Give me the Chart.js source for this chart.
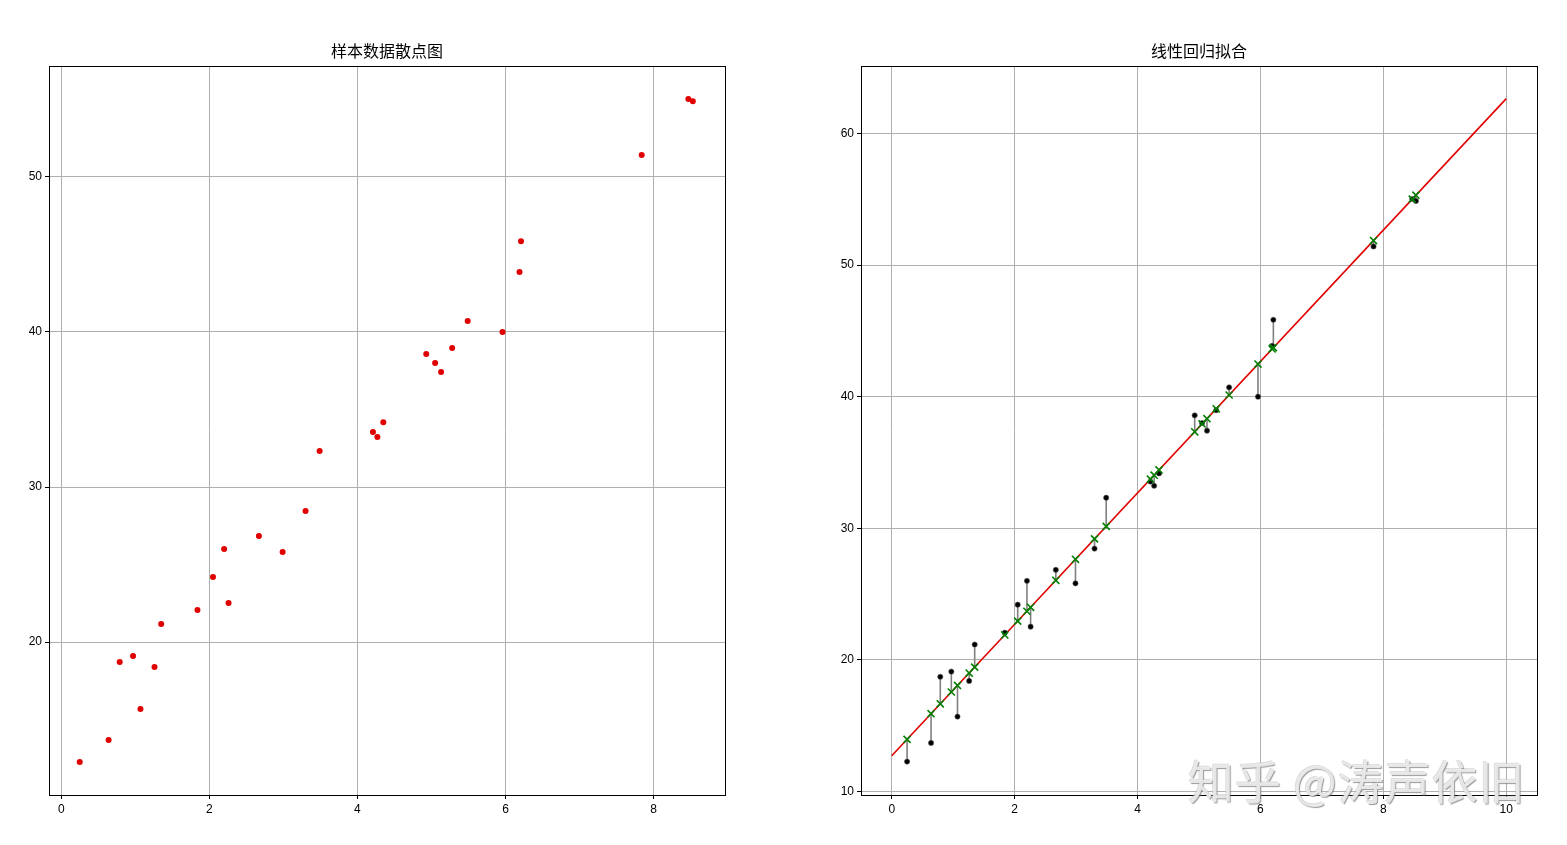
<!DOCTYPE html>
<html>
<head>
<meta charset="utf-8">
<script src="https://cdn.jsdelivr.net/npm/chart.js@4.4.1/dist/chart.umd.min.js"></script>
<style>
  html, body { margin: 0; padding: 0; background: #ffffff; }
  body { width: 1567px; height: 845px; position: relative; overflow: hidden; }
  #c1 { position: absolute; left: 0; top: 0; }
  #c2 { position: absolute; left: 783px; top: 0; }
  #wm {
    position: absolute; left: 1188px; top: 756px;
    font-family: "Noto Sans CJK SC", sans-serif; font-size: 46px; line-height: 1;
    color: rgba(238,238,238,0.9); white-space: nowrap; letter-spacing: 1px;
    text-shadow: 1px 1px 1px rgba(120,120,120,0.75), -1px -1px 0 rgba(190,190,190,0.5);
    pointer-events: none;
  }
</style>
</head>
<body>
<canvas id="c1" width="783" height="845"></canvas>
<canvas id="c2" width="784" height="845"></canvas>
<div id="wm">知乎 @涛声依旧</div>
<script>
// ---- data ----
const sampleX = [0.25, 0.64, 0.79, 0.97, 1.07, 1.26, 1.35, 1.84, 2.05, 2.20, 2.26, 2.67, 2.99, 3.30, 3.49, 4.21, 4.27, 4.35, 4.93, 5.05, 5.13, 5.28, 5.49, 5.96, 6.19, 6.21, 7.84, 8.47, 8.53];
const sampleY = [12.26, 13.68, 18.71, 19.10, 15.68, 18.39, 21.16, 22.06, 24.19, 26.00, 22.52, 26.84, 25.81, 28.45, 32.32, 33.55, 33.23, 34.17, 38.58, 38.00, 37.42, 38.97, 40.71, 40.00, 43.87, 45.85, 51.42, 55.03, 54.88];
const fittedY = [13.95, 15.90, 16.65, 17.55, 18.05, 18.99, 19.44, 21.89, 22.94, 23.69, 23.99, 26.04, 27.64, 29.19, 30.14, 33.73, 34.03, 34.43, 37.33, 37.93, 38.33, 39.08, 40.13, 42.48, 43.63, 43.73, 51.87, 55.02, 55.32];
const lineX = [0, 10];
const lineY = [12.70, 62.66];
const titles = ["样本数据散点图", "线性回归拟合"];
const leftXRange = [-0.165, 8.965];
const leftYRange = [10.13, 57.16];
const rightXRange = [-0.5, 10.5];
const rightYRange = [9.72, 65.14];
const xTickStep = 2;
const yTickStep = 10;

const tickFont = { family: "'Liberation Sans', Arial, sans-serif", size: 12 };
const titleFont = { family: "'Noto Sans CJK SC', sans-serif", size: 16, weight: 'normal' };

const framePlugin = {
  id: 'frame',
  afterDraw(chart) {
    const a = chart.chartArea, ctx = chart.ctx;
    ctx.save();
    ctx.strokeStyle = '#000';
    ctx.lineWidth = 1;
    ctx.strokeRect(Math.round(a.left) + 0.5, Math.round(a.top) + 0.5, Math.round(a.right - a.left), Math.round(a.bottom - a.top));
    ctx.restore();
  }
};

function axes(xr, yr, yWidth) {
  const grid = { color: '#b0b0b0', lineWidth: 1, tickColor: '#000', tickLength: 4, drawTicks: true };
  return {
    x: {
      type: 'linear', min: xr[0], max: xr[1],
      ticks: { stepSize: xTickStep, includeBounds: false, font: tickFont, color: '#000', padding: 3, maxRotation: 0 },
      grid: grid, border: { display: false },
      afterFit(s) { s.height = 50; }
    },
    y: {
      type: 'linear', min: yr[0], max: yr[1],
      ticks: { stepSize: yTickStep, includeBounds: false, font: tickFont, color: '#000', padding: 3 },
      grid: grid, border: { display: false },
      afterFit(s) { s.width = yWidth; }
    }
  };
}

function titleOpts(text) {
  return { display: true, text: text, font: titleFont, color: '#000', fullSize: false, padding: { top: 41, bottom: 5.8 } };
}

const pts = (xs, ys) => xs.map((x, i) => ({ x: x, y: ys[i] }));

// Left chart
new Chart(document.getElementById('c1'), {
  type: 'scatter',
  data: {
    datasets: [{
      label: 'sample',
      data: pts(sampleX, sampleY),
      backgroundColor: '#e00000', borderColor: '#e00000', borderWidth: 0,
      pointRadius: 3, pointHoverRadius: 3
    }]
  },
  options: {
    responsive: false, animation: false, devicePixelRatio: 1,
    layout: { padding: { left: 0, right: 58, top: 0, bottom: 0 } },
    plugins: { legend: { display: false }, tooltip: { enabled: false }, title: titleOpts(titles[0]) },
    scales: axes(leftXRange, leftYRange, 49)
  },
  plugins: [framePlugin]
});

// residual segments: point -> fitted value, separated by gaps
const residualData = [];
sampleX.forEach((x, i) => {
  residualData.push({ x: x, y: sampleY[i] });
  residualData.push({ x: x, y: fittedY[i] });
  residualData.push({ x: x, y: null });
});

// Right chart
new Chart(document.getElementById('c2'), {
  type: 'scatter',
  data: {
    datasets: [
      {
        label: 'fitted', data: pts(sampleX, fittedY), order: 0,
        pointStyle: 'crossRot', pointRadius: 5, pointHoverRadius: 5,
        borderColor: '#008000', backgroundColor: '#008000', borderWidth: 1.6
      },
      {
        label: 'sample', data: pts(sampleX, sampleY), order: 1,
        pointRadius: 2.6, pointHoverRadius: 2.6,
        backgroundColor: '#000', borderColor: '#555', borderWidth: 0.6
      },
      {
        type: 'line', label: 'residual', data: residualData, order: 2,
        showLine: true, spanGaps: false, borderColor: '#808080', borderWidth: 1.6,
        pointRadius: 0, fill: false, tension: 0
      },
      {
        type: 'line', label: 'fit', data: pts(lineX, lineY), order: 3,
        showLine: true, borderColor: '#e00000', borderWidth: 1.6,
        pointRadius: 0, fill: false, tension: 0
      }
    ]
  },
  options: {
    responsive: false, animation: false, devicePixelRatio: 1,
    layout: { padding: { left: 0, right: 30, top: 0, bottom: 0 } },
    plugins: { legend: { display: false }, tooltip: { enabled: false }, title: titleOpts(titles[1]) },
    scales: axes(rightXRange, rightYRange, 78)
  },
  plugins: [framePlugin]
});
</script>
</body>
</html>
